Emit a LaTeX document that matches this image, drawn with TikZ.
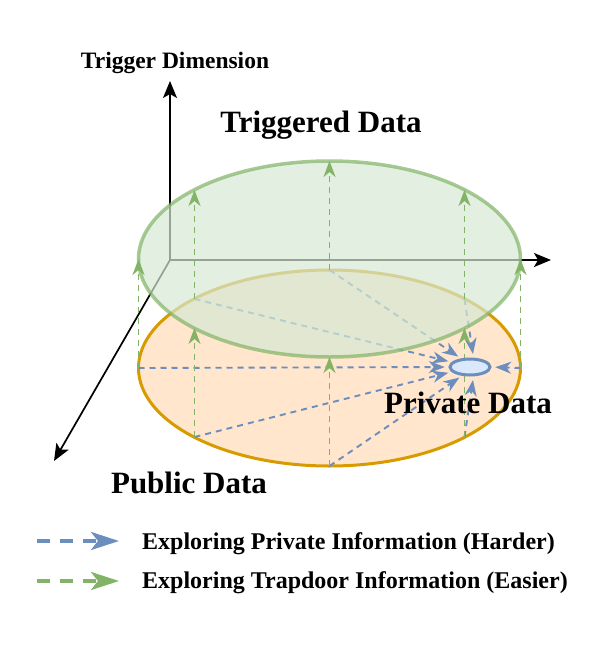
\documentclass[tikz,border=0pt]{standalone}
\usepackage{fontspec}
\setmainfont{Liberation Serif}
\usetikzlibrary{arrows.meta,shapes.geometric}
\definecolor{gfill}{HTML}{D5E8D4}
\definecolor{gline}{HTML}{82B366}
\definecolor{ofill}{HTML}{FFE6CC}
\definecolor{oline}{HTML}{D79B00}
\definecolor{bline}{HTML}{6C8EBF}
\definecolor{bfill}{HTML}{DAE8FC}
\tikzset{
  plane/.style={ellipse, minimum width=382pt, minimum height=196pt, inner sep=0pt, outer sep=0pt},
  bluearr/.style={draw=bline, line width=1.9pt, dash pattern=on 6pt off 5pt,
    -{Stealth[length=16pt,width=12pt,inset=5pt]}, shorten >=5pt},
  greenarr/.style={draw=gline, line width=1.9pt, dash pattern=on 6pt off 5pt,
    -{Stealth[length=16pt,width=12pt,inset=5pt]}},
  axis/.style={draw=black, line width=1.7pt, -{Stealth[length=17pt,width=14pt,inset=4pt]}},
  small/.style={font=\fontsize{23.5}{28}\selectfont\bfseries},
  legend/.style={font=\fontsize{24}{28}\selectfont\bfseries},
  big/.style={font=\fontsize{31}{36}\selectfont\bfseries},
  legblue/.style={draw=bline, line width=3.4pt, dash pattern=on 13pt off 10pt,
    -{Stealth[length=28pt,width=18pt,inset=7pt]}},
  leggreen/.style={draw=gline, line width=3.4pt, dash pattern=on 13pt off 10pt,
    -{Stealth[length=28pt,width=18pt,inset=7pt]}},
}
\begin{document}
\begin{tikzpicture}[x=1pt,y=-1pt]
\useasboundingbox (0,0) rectangle (596,662);
% public (orange) plane
\node[plane, draw=oline, fill=ofill, line width=3pt] (pub) at (329.5,368) {};
% points on the public plane
\coordinate (o0) at (520.5,368);
\coordinate (o45) at (464.5,299);
\coordinate (o90) at (329.5,270);
\coordinate (o135) at (194.5,299);
\coordinate (o180) at (138.5,368);
\coordinate (o225) at (194.5,437);
\coordinate (o270) at (329.5,466);
\coordinate (o315) at (464.5,437);
% points on the triggered plane
\coordinate (g0) at (520.5,259);
\coordinate (g45) at (464.5,190);
\coordinate (g90) at (329.5,161);
\coordinate (g135) at (194.5,190);
\coordinate (g180) at (138.5,259);
\coordinate (g225) at (194.5,328);
\coordinate (g270) at (329.5,357);
\coordinate (g315) at (464.5,328);
% private data node
\node[ellipse, minimum width=40pt, minimum height=16pt, inner sep=0pt] (priv) at (470,367) {};
% blue arrows
\draw[bluearr] (o180) -- (priv.180);
\draw[bluearr] (o135) -- (priv.165);
\draw[bluearr] (o90) -- (priv.135);
\draw[bluearr] (o45) -- (priv.65);
\draw[bluearr] (o0) -- (priv.0);
\draw[bluearr] (o315) -- (priv.-65);
\draw[bluearr] (o270) -- (priv.-130);
\draw[bluearr] (o225) -- (priv.-165);
% axes
\coordinate (origin) at (170,260);
\coordinate (ztip) at (170,81);
\coordinate (xtip) at (551,260);
\coordinate (ytip) at (54,461);
\draw[axis] (origin) -- (ztip);
\draw[axis] (origin) -- (xtip);
\draw[axis] (origin) -- (ytip);
% triggered (green) plane
\node[plane, draw=gline, fill=gfill, line width=3.5pt, opacity=0.7] (trig) at (329.5,259) {};
% green arrows
\draw[greenarr] (o0) -- (g0);
\draw[greenarr] (o45) -- (g45);
\draw[greenarr] (o90) -- (g90);
\draw[greenarr] (o135) -- (g135);
\draw[greenarr] (o180) -- (g180);
\draw[greenarr] (o225) -- (g225);
\draw[greenarr] (o270) -- (g270);
\draw[greenarr] (o315) -- (g315);
% private ellipse on top
\node[ellipse, draw=bline, fill=bfill, line width=3pt, minimum width=40pt, minimum height=16pt, inner sep=0pt] at (priv) {};
% labels
\node[small, anchor=base] (tdim) at (175,68) {Trigger Dimension};
\node[big, anchor=base] (tdata) at (321,132) {Triggered Data};
\node[big, anchor=base] (pdata) at (468,413) {Private Data};
\node[big, anchor=base] (pubdata) at (189,493) {Public Data};
% legend
\coordinate (l1a) at (37,541);
\coordinate (l1b) at (119,541);
\coordinate (l2a) at (37,581);
\coordinate (l2b) at (119,581);
\draw[legblue] (l1a) -- (l1b);
\draw[leggreen] (l2a) -- (l2b);
\node[legend, anchor=base west, inner sep=0pt] (leg1) at (142,549) {Exploring Private Information (Harder)};
\node[legend, anchor=base west, inner sep=0pt] (leg2) at (142,588) {Exploring Trapdoor Information (Easier)};
\end{tikzpicture}
\end{document}
